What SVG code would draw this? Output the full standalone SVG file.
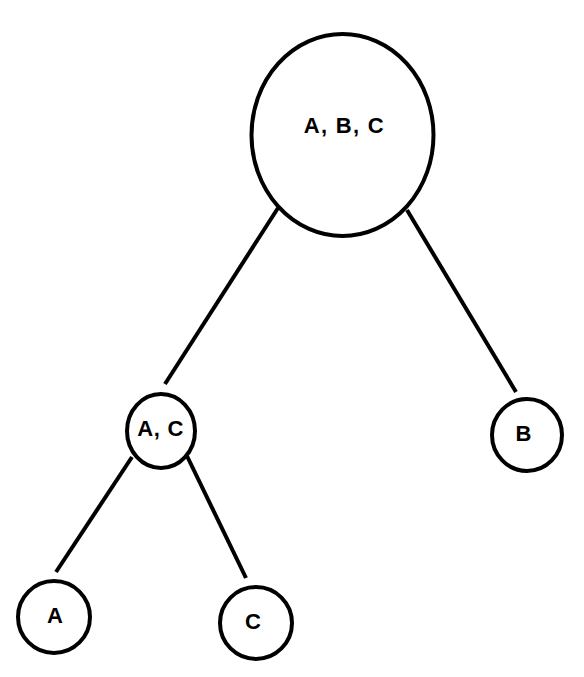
<svg xmlns="http://www.w3.org/2000/svg" width="584" height="677" viewBox="0 0 584 677">
<style>
.n{fill:#fff;stroke:#000;stroke-width:4}
.e{stroke:#000;stroke-width:4;fill:none}
text{font-family:"Liberation Sans",Arial,sans-serif;font-weight:bold;font-size:22px;text-anchor:middle;fill:#000}
</style>
<rect width="584" height="677" fill="#fff"/>
<g id="edges">
<line class="e" x1="278" y1="208" x2="165" y2="384"/>
<line class="e" x1="407" y1="210" x2="516" y2="392"/>
<line class="e" x1="132" y1="457" x2="56" y2="572"/>
<line class="e" x1="187" y1="456" x2="246" y2="578"/>
</g>
<g id="root"><ellipse class="n" cx="342.5" cy="135" rx="91" ry="101"/><text x="344.4" y="133" style="letter-spacing:1.3px">A, B, C</text></g>
<g id="ac"><ellipse class="n" cx="161" cy="431" rx="34" ry="37"/><text x="160.6" y="436" style="letter-spacing:0.7px">A, C</text></g>
<g id="b"><ellipse class="n" cx="527" cy="435" rx="35" ry="36"/><text x="523.5" y="441">B</text></g>
<g id="a"><ellipse class="n" cx="54" cy="617" rx="36" ry="36"/><text x="55" y="623">A</text></g>
<g id="c"><ellipse class="n" cx="256" cy="623" rx="36" ry="36"/><text x="253" y="629">C</text></g>
</svg>
